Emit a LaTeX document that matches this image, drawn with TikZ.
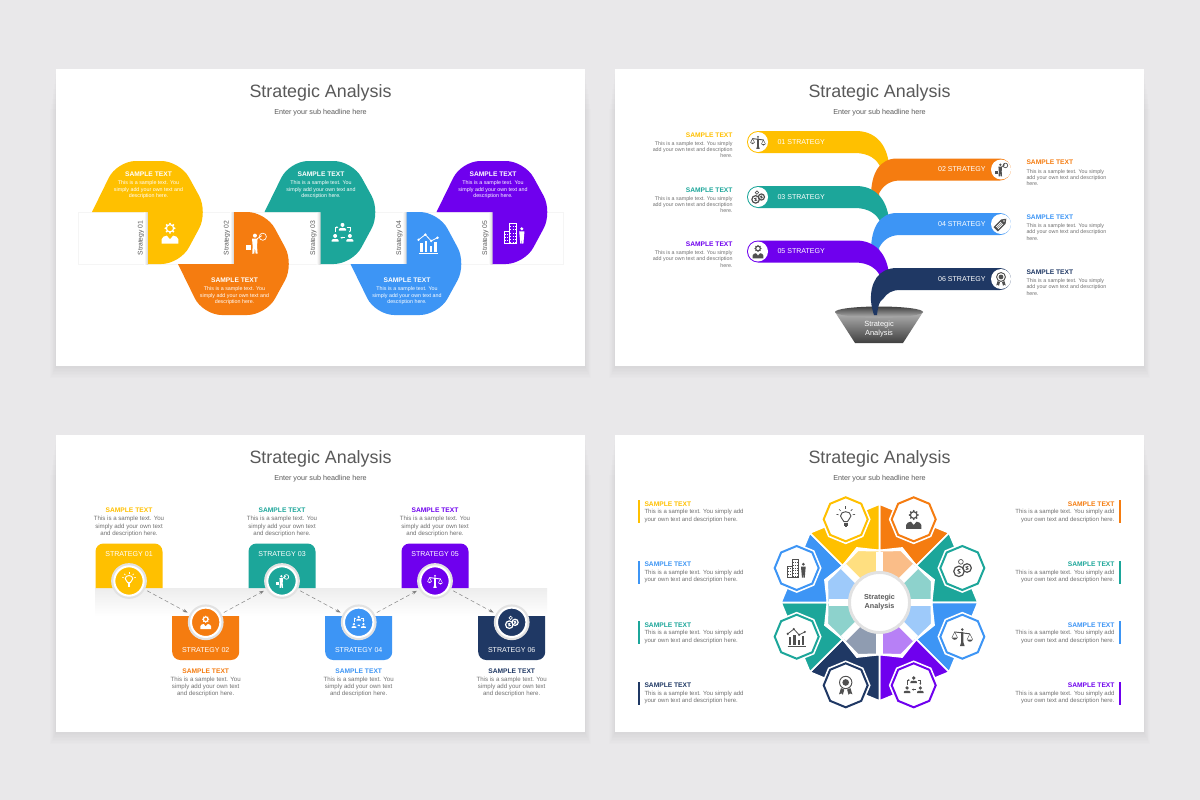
\documentclass[tikz,border=0pt]{standalone}
\usepackage{fontspec}
\setmainfont{Liberation Sans}
\usetikzlibrary{arrows.meta,shapes.geometric}

\definecolor{cyellow}{HTML}{FFC000}
\definecolor{corange}{HTML}{F57C10}
\definecolor{cteal}{HTML}{1CA69A}
\definecolor{cblue}{HTML}{3D95F5}
\definecolor{cpurple}{HTML}{6F00EE}
\definecolor{cnavy}{HTML}{1F3864}
\definecolor{cback}{HTML}{E9E8EA}
\definecolor{ctitle}{HTML}{595959}
\definecolor{cbody}{HTML}{707070}
\definecolor{cicon}{HTML}{505050}
\definecolor{cring}{HTML}{E2E2E2}

\tikzset{every picture/.style={line width=0.75pt}}
\tikzset{
	title text/.style={text=ctitle,font=\fontsize{13.4}{16}\selectfont},
	sub text/.style={text=ctitle,font=\fontsize{5.4}{7}\selectfont},
	head text/.style={font=\bfseries\fontsize{5}{6}\selectfont},
	body text/.style={text=cbody,font=\fontsize{4}{4.8}\selectfont},
	wide text/.style={text=cbody,font=\fontsize{4.6}{5.4}\selectfont},
	side text/.style={text=cbody,font=\fontsize{4.5}{5.5}\selectfont},
	label text/.style={text=white,font=\fontsize{5.3}{6}\selectfont},
	step dot/.style={circle,fill=#1,draw=white,line width=1.5pt,minimum size=22pt,inner sep=0pt,preaction={draw=cring,line width=4.8pt}},
	flow line/.style={draw=black!50,line width=0.35pt,densely dashed,-{Stealth[length=3.5pt,width=2.5pt]},shorten >=3.7pt,shorten <=3.7pt},
	oct box/.style={regular polygon,regular polygon sides=8,shape border rotate=22.5,minimum size=33pt,inner sep=0pt,fill=white,draw=#1,line width=1.5pt,preaction={draw=white,line width=4pt}},
	icon size/.style={transform shape,scale=#1},
	% icons, about 20 units wide
	pics/bust/.style={code={
		\fill[#1] (0,-2.2) circle [x radius=1.9,y radius=1.9];
		\fill[#1] (-3.4,3.2) -- (-3.4,1.8) .. controls (-3.4,0.3) and (3.4,0.3) .. (3.4,1.8) -- (3.4,3.2) -- cycle;
	}},
	pics/gearman/.style={code={
		\foreach \t in {0,45,...,315} {\fill[#1] (0,-4.5) ++(\t:4.4) circle [x radius=1,y radius=1];}
		\draw[#1,line width=0.9pt] (0,-4.5) circle [x radius=3.5,y radius=3.5];
		\fill[#1] (-8,10) -- (-8,6) .. controls (-8,3.5) and (-5,3) .. (-3,2.5) -- (0,6) -- (3,2.5) .. controls (5,3) and (8,3.5) .. (8,6) -- (8,10) -- cycle;
	}},
	pics/bizman/.style={code={
		\fill[#1] (-1,-7) circle [x radius=1.9,y radius=1.9];
		\fill[#1] (-3.8,-4.2) -- (1.5,-4.2) -- (1,3) -- (1.5,10) -- (-0.4,10) -- (-1,4) -- (-1.6,10) -- (-3.6,10) -- (-3.2,3) -- cycle;
		\draw[#1,line width=0.6pt] (1,-4) -- (5.5,-7);
		\fill[#1] (-9.5,1.5) rectangle (-4.8,6.5);
		\draw[#1,line width=0.5pt] (6.5,-6) circle [x radius=3.4,y radius=3.4];
	}},
	pics/team/.style={code={
		\path (0,-5.5) pic [transform shape] {bust=#1};
		\path (-7,5) pic [transform shape] {bust=#1};
		\path (7,5) pic [transform shape] {bust=#1};
		\draw[#1,line width=0.5pt,-{Stealth[length=1.5pt,width=1.5pt]}] (2,4.5) -- (-2,4.5);
		\draw[#1,line width=0.5pt,-{Stealth[length=1.5pt,width=1.5pt]}] (-7,-0.5) -- (-7,-5.5) -- (-4,-5.5);
		\draw[#1,line width=0.5pt,-{Stealth[length=1.5pt,width=1.5pt]}] (4,-5.5) -- (7,-5.5) -- (7,-0.5);
	}},
	pics/chart/.style={code={
		\fill[#1] (-8,0) rectangle (-5.5,9);
		\fill[#1] (-3.5,-2) rectangle (-1,9);
		\fill[#1] (1,3) rectangle (3.5,9);
		\fill[#1] (5.5,-1) rectangle (8,9);
		\draw[#1,line width=0.6pt] (-9.5,-3) -- (-3,-8) -- (2.5,-2) -- (8.5,-5);
		\foreach \p in {(-9.5,-3),(-3,-8),(2.5,-2),(8.5,-5)} {\fill[#1] \p circle [x radius=1.3,y radius=1.3];}
		\draw[#1,line width=0.6pt] (-9.5,10) -- (9.5,10);
	}},
	pics/city/.style={code={
		\draw[#1,line width=0.5pt] (-10,-2) rectangle (-5,10);
		\draw[#1,line width=0.5pt] (-5,-9) rectangle (2,10);
		\foreach \k in {-6,-3,...,9} {\draw[#1,line width=0.7pt,densely dotted] (-4,\k) -- (1,\k);}
		\foreach \k in {1,4,7} {\draw[#1,line width=0.7pt,densely dotted] (-9,\k) -- (-6,\k);}
		\fill[#1] (7,-4) circle [x radius=1.6,y radius=1.6];
		\fill[#1] (4.5,-1.5) -- (9.5,-1.5) -- (9,4) -- (8.5,10) -- (7.3,10) -- (7,5) -- (6.7,10) -- (5.5,10) -- (5,4) -- cycle;
	}},
	pics/scales/.style={code={
		\fill[#1] (-1.2,-5) -- (1.2,-5) -- (1.2,6) -- (2.5,10) -- (-2.5,10) -- (-1.2,6) -- cycle;
		\fill[#1] (0,-7.5) circle [x radius=1.5,y radius=1.5];
		\draw[#1,line width=0.7pt] (-8,-5) -- (0,-4) -- (8,-3);
		\fill[#1] (-11,1) .. controls (-10,4) and (-6,4) .. (-5,1) -- cycle;
		\fill[#1] (5,3) .. controls (6,6) and (10,6) .. (11,3) -- cycle;
		\draw[#1,line width=0.35pt] (-11,1) -- (-8,-5) -- (-5,1) (5,3) -- (8,-3) -- (11,3);
	}},
	pics/coins/.style={code={
		\draw[#1,line width=0.9pt] (-3.5,3.5) circle [x radius=5.5,y radius=5.5];
		\draw[#1,line width=0.9pt] (5,0) circle [x radius=4.5,y radius=4.5];
		\draw[#1,line width=0.5pt] (-1.5,-6.5) circle [x radius=2.5,y radius=2.5];
		\draw[#1,line width=0.7pt] (-2,1.5) .. controls (-5,1) and (-6,3.5) .. (-3.5,3.5) .. controls (-1,3.5) and (-2,6) .. (-5,5.5);
		\draw[#1,line width=0.7pt] (6.3,-1.7) .. controls (3.8,-2) and (2.8,0) .. (5,0) .. controls (7.2,0) and (6.2,2) .. (3.7,1.7);
	}},
	pics/pricetag/.style={code={
		\begin{scope}[rotate=-45]
			\fill[#1] (-11,-4.5) -- (5,-4.5) -- (11,0) -- (5,4.5) -- (-11,4.5) -- cycle;
			\fill[white] (6,0) circle [x radius=1.3,y radius=1.3];
			\draw[white,line width=0.5pt] (-8,-2) -- (2,-2) (-8,0) -- (2,0) (-8,2) -- (2,2);
		\end{scope}
	}},
	pics/medal/.style={code={
		\draw[#1,line width=0.7pt] (0,-3) circle [x radius=6.5,y radius=6.5];
		\fill[#1] (0,-3) circle [x radius=3.5,y radius=3.5];
		\fill[#1] (-5,3) -- (-7,9.5) -- (-4.5,8.5) -- (-3,10) -- (-1.5,4.5) -- cycle;
		\fill[#1] (5,3) -- (7,9.5) -- (4.5,8.5) -- (3,10) -- (1.5,4.5) -- cycle;
	}},
	pics/bulb/.style={code={
		\draw[#1,line width=0.7pt] (-1.8,2.5) .. controls (-2,0) and (-5.5,-0.5) .. (-5.5,-3.5) .. controls (-5.5,-9.5) and (5.5,-9.5) .. (5.5,-3.5) .. controls (5.5,-0.5) and (2,0) .. (1.8,2.5) -- cycle;
		\fill[#1] (-2,3.5) rectangle (2,7);
		\fill[#1] (-1,7) rectangle (1,8.5);
		\foreach \t in {-170,-135,-90,-45,-10} {\draw[#1,line width=0.5pt] (0,-3.5) ++(\t:7.5) -- ++(\t:2.5);}
	}},
}

\begin{document}
\begin{tikzpicture}[x=0.75pt,y=0.75pt,yscale=-1,xscale=1]
	\useasboundingbox (0,0) rectangle (1200,800);
	\fill[cback] (0,0) rectangle (1200,800);

	%Panels with title
	\foreach \x/\y/\k in {56/69/a,615/69/b,56/435/c,615/435/d} {
		\foreach \s in {1,...,8} {
			\fill[black,opacity=0.009] (\x-\s*0.7,\y+\s*5) rectangle (\x+529+\s*0.7,\y+297+\s*1.5);
		}
		\fill[white] (\x,\y) rectangle (\x+529,\y+297);
		\draw (\x+264.5,\y+23.5) node (title\k) [title text] {Strategic Analysis};
		\draw (\x+264.5,\y+43.5) node (sub\k) [sub text] {Enter your sub headline here};
	}

	%Panel 1: strip
	\draw[draw=black!4,fill=white] (78,212) rectangle (563,264);
	%Panel 1: hexagons
	\foreach \x/\s/\c/\hy/\by/\iy/\ic/\k in {92/1/cyellow/174.7/189.7/233/gearman/1,178/-1/corange/280.3/295.7/243/bizman/2,264.5/1/cteal/174.7/189.7/233/team/3,350.5/-1/cblue/280.3/295.7/243/chart/4,436.5/1/cpurple/174.7/189.7/233/city/5} {
		\shade[left color=white,right color=black!18] (\x+52,212) rectangle (\x+56,264);
		\begin{scope}[shift={(\x,238)},yscale=\s]
			\fill[\c] (0,-26) [rounded corners=14] -- (25,-77) -- (88,-77) -- (116,-26) -- (88,26) [sharp corners] -- (56,26) -- (56,-26) -- cycle;
		\end{scope}
		\draw (\x+49,238) node (hexname\k) [rotate=90,text=ctitle,font=\fontsize{5.1}{6}\selectfont] {Strategy 0\k};
		\draw (\x+56.5,\hy) node (hexhead\k) [head text,text=white] {SAMPLE TEXT};
		\draw (\x+56.5,\by) node (hexbody\k) [body text,text=white,align=center] {This is a sample text. You\\simply add your own text and\\description here.};
		\path (\x+78,\iy) pic [icon size=1.05] {\ic=white};
	}

	%Panel 2: funnel
	\shade[top color=black!30,bottom color=black!75] (835,312) -- (855,343) -- (903,343) -- (923,312) -- cycle;
	\shade[top color=black!75,bottom color=black!30] (879,312) circle [x radius=44,y radius=5.5];
	%Panel 2: ribbons
	\foreach \y/\yy/\n/\c/\cc/\il/\ir in {142/169.5/1/cyellow/corange/scales/bizman,197/224/3/cteal/cblue/coins/pricetag,251.5/279/5/cpurple/cnavy/gearman/medal} {
		\begin{scope}[shift={(0,\y)}]
			\fill[\c] (758,-11) -- (856,-11) .. controls (875,-11) and (887,2) .. (889,23) -- (881,27) .. controls (878,17) and (868,11) .. (855,11) -- (758,11) arc [start angle=90,end angle=270,x radius=11,y radius=11] -- cycle;
		\end{scope}
		\fill[white] (758,\y) circle [x radius=10,y radius=10];
		\draw (758,\y) node (ribicon\n) [inner sep=0pt] {};
		\path (ribicon\n) pic [icon size=0.68] {\il=cicon};
		\draw (777,\y) node (ribtext\n) [label text,anchor=west,inner sep=0pt] {0\n\ STRATEGY};
		\draw (733,\y-7) node (ribhead\n) [head text,text=\c,anchor=east,inner sep=0pt] {SAMPLE TEXT};
		\draw (733,\y+7.5) node (ribbody\n) [body text,anchor=east,align=right,inner sep=0pt] {This is a sample text. You simply\\add your own text and description\\here.};
		\pgfmathtruncatemacro{\m}{\n+1}
		\begin{scope}[shift={(0,\yy)}]
			\ifnum\m=6
				\fill[\cc] (1000,-11) -- (897,-11) .. controls (878,-11) and (870,4) .. (871,22) .. controls (871.5,28) and (873,33) .. (874,36) -- (877,36) .. controls (878,28) and (879,22) .. (883,20) .. controls (887,14) and (892,11) .. (900,11) -- (1000,11) arc [start angle=90,end angle=-90,x radius=11,y radius=11] -- cycle;
			\else
				\fill[\cc] (1000,-11) -- (897,-11) .. controls (880,-11) and (871,3) .. (871,27) -- (880,30) -- (879,24) .. controls (882,18) and (888,11) .. (900,11) -- (1000,11) arc [start angle=90,end angle=-90,x radius=11,y radius=11] -- cycle;
			\fi
		\end{scope}
		\fill[white] (1001,\yy) circle [x radius=10,y radius=10];
		\draw (1001,\yy) node (ribicon\m) [inner sep=0pt] {};
		\path (ribicon\m) pic [icon size=0.68] {\ir=cicon};
		\draw (986,\yy) node (ribtext\m) [label text,anchor=east,inner sep=0pt] {0\m\ STRATEGY};
		\draw (1026,\yy-7) node (ribhead\m) [head text,text=\cc,anchor=west,inner sep=0pt] {SAMPLE TEXT};
		\draw (1026,\yy+8) node (ribbody\m) [body text,anchor=west,align=left,inner sep=0pt] {This is a sample text. You simply\\add your own text and description\\here.};
	}
	% Text Node
	\draw (879,329.5) node (funnel) [text=white,align=center,font=\fontsize{5.6}{6.8}\selectfont] {Strategic\\Analysis};

	%Panel 3: strip
	\shade[top color=black!7,bottom color=white] (95,588) rectangle (547,616);
	%Panel 3: boxes
	\foreach \x/\c/\n/\ic in {129/cyellow/1/bulb,282/cteal/3/bizman,435/cpurple/5/scales} {
		\fill[\c] (\x-33.5,588) [rounded corners=6] -- (\x-33.5,543.5) -- (\x+33.5,543.5) [sharp corners] -- (\x+33.5,588) -- cycle;
		\draw (\x,553.7) node (boxtext\n) [label text] {STRATEGY 0\n};
		\draw (\x,510) node (boxhead\n) [head text,text=\c] {SAMPLE TEXT};
		\draw (\x,526.5) node (boxbody\n) [wide text,align=center] {This is a sample text.  You\\simply add your own text\\and description here.};
		\draw (\x,581) node (dot\n) [step dot=\c] {};
		\path (dot\n) pic [icon size=0.68] {\ic=white};
	}
	\foreach \x/\c/\n/\ic in {205.7/corange/2/gearman,358.7/cblue/4/team,511.7/cnavy/6/coins} {
		\fill[\c] (\x-33.5,616) [rounded corners=6] -- (\x-33.5,660) -- (\x+33.5,660) [sharp corners] -- (\x+33.5,616) -- cycle;
		\draw (\x,650) node (boxtext\n) [label text] {STRATEGY 0\n};
		\draw (\x,670.7) node (boxhead\n) [head text,text=\c] {SAMPLE TEXT};
		\draw (\x,687) node (boxbody\n) [wide text,align=center] {This is a sample text.  You\\simply add your own text\\and description here.};
		\draw (\x,622.3) node (dot\n) [step dot=\c] {};
		\path (dot\n) pic [icon size=0.68] {\ic=white};
	}
	%Panel 3: connectors
	\draw[flow line] (dot1) -- (dot2);
	\draw[flow line] (dot2) -- (dot3);
	\draw[flow line] (dot3) -- (dot4);
	\draw[flow line] (dot4) -- (dot5);
	\draw[flow line] (dot5) -- (dot6);

	%Panel 4: wheel
	\begin{scope}[shift={(879.5,602.5)}]
		\foreach \a/\c in {-90/corange,-45/cteal,0/cblue,45/cpurple,90/cnavy,135/cteal,180/cblue,225/cyellow} {
			\filldraw[fill=\c,draw=white,line width=1.3pt] (\a:98.5) -- (\a+45:98.5) -- (\a+45:52) -- (\a+22.5:59) -- (\a:52) -- cycle;
			\filldraw[fill=\c!50,draw=white,line width=1.3pt] (\a:52) -- (\a+22.5:56.5) -- (\a+45:52) -- (\a+45:25) -- (\a:25) -- cycle;
		}
		\foreach \a in {0,45,...,315} {
			\draw[white,line width=5.5pt] (0,0) -- (\a:51);
		}
	\end{scope}
	% Text Node
	\draw (879.5,602.5) node (hub) [circle,fill=white,draw=cring,line width=2.2pt,minimum size=45pt,inner sep=0pt,text=ctitle,align=center,font=\bfseries\fontsize{5.4}{6.8}\selectfont] {Strategic\\Analysis};
	%Panel 4: octagons
	\foreach \x/\y/\c/\ic/\k in {845.7/519.3/cyellow/bulb/1,913.7/519.3/corange/gearman/2,962.3/568/cteal/coins/3,962.3/636.7/cblue/scales/4,913.7/685.3/cpurple/team/5,845.7/685.3/cnavy/medal/6,796.7/636.7/cteal/chart/7,796.7/568/cblue/city/8} {
		\draw (\x,\y) node (oct\k) [oct box=\c] {};
		\path (oct\k) pic [icon size=0.95] {\ic=cicon};
	}
	%Panel 4: texts
	\foreach \y/\c/\cc/\k in {500/cyellow/corange/1,560.5/cblue/cteal/2,621/cteal/cblue/3,681.5/cnavy/cpurple/4} {
		\fill[\c] (637.5,\y) rectangle (640.2,\y+23);
		\draw (644,\y+3.7) node (lefthead\k) [head text,text=\c,anchor=west,inner sep=0pt] {SAMPLE TEXT};
		\draw (644,\y+15.8) node (leftbody\k) [side text,anchor=west,align=left,inner sep=0pt] {This is a sample text. You simply add\\your own text and description here.};
		\fill[\cc] (1118.5,\y) rectangle (1121.2,\y+23);
		\draw (1115,\y+3.7) node (righthead\k) [head text,text=\cc,anchor=east,inner sep=0pt] {SAMPLE TEXT};
		\draw (1115,\y+15.8) node (rightbody\k) [side text,anchor=east,align=right,inner sep=0pt] {This is a sample text. You simply add\\your own text and description here.};
	}
\end{tikzpicture}
\end{document}
